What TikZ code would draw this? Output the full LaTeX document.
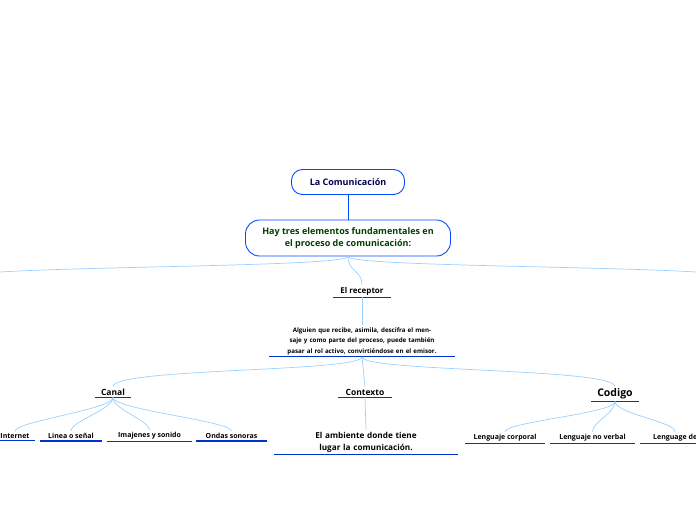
\documentclass[tikz,border=0pt]{standalone}
\usepackage{fontspec}
\setmainfont{Open Sans}
\begin{document}
\begin{tikzpicture}[x=1pt,y=-1pt,
  conn/.style={draw=blue!45!cyan!40!white,line width=0.7pt},
  ulbox/.style={inner sep=2pt,font=\bfseries},
  ul/.style={draw=blue!75!cyan!80!black,line width=1.3pt},
  topbox/.style={draw=blue!70!cyan,line width=0.9pt,rounded corners=11pt,font=\bfseries,align=center}]
\useasboundingbox (0,0) rectangle (696,520);
\clip (0,0) rectangle (696,520);
\node[topbox,text=blue!30!black,minimum width=113,minimum height=25,font=\bfseries\fontsize{9}{11}\selectfont] (lc) at (348,182) {La Comunicación};
\node[topbox,text=green!25!black,minimum width=205,minimum height=36,rounded corners=14pt,font=\bfseries\fontsize{9}{12}\selectfont] (hay) at (348,238) {Hay tres elementos fundamentales en\\el proceso de comunicación:};
\draw[draw=blue!70!cyan,line width=1pt] (lc.south) -- (hay.north);
\coordinate (le) at (0,272);
\coordinate (re) at (696,272);
\draw[conn] (hay.south) .. controls (348,266) and (100,266) .. (le);
\draw[conn] (hay.south) .. controls (348,266) and (596,266) .. (re);
\node[ulbox,minimum width=58,font=\bfseries\fontsize{8}{10}\selectfont] (rec) at (362,291) {El receptor};
\draw[conn] (hay.south) .. controls (348,272) and (362,270) .. (rec.north);
\draw[ul] (rec.south west) -- (rec.south east);
\node[ulbox,text width=181,align=center,font=\bfseries\fontsize{6.2}{10.5}\selectfont] (par) at (362,341) {Alguien que recibe, asimila, descifra el mensaje y como parte del proceso, puede también pasar al rol activo, convirtiéndose en el emisor.};
\draw[conn] (rec.south) -- (par.north);
\draw[ul] (par.south west) -- (par.south east);
\node[ulbox,minimum width=35,font=\bfseries\fontsize{8.5}{10}\selectfont] (can) at (113,392) {Canal};
\node[ulbox,minimum width=54,font=\bfseries\fontsize{8.5}{10}\selectfont] (ctx) at (365,392) {Contexto};
\node[ulbox,minimum width=47,font=\bfseries\fontsize{10.5}{12}\selectfont] (cod) at (615,394) {Codigo};
\foreach \n in {can,ctx,cod}{\draw[ul] (\n.south west) -- (\n.south east);}
\draw[conn] (par.south) .. controls (362,372) and (113,368) .. (can.north);
\draw[conn] (par.south) -- (ctx.north);
\draw[conn] (par.south) .. controls (362,372) and (615,368) .. (cod.north);
\node[ulbox,text width=180,align=center,font=\bfseries\fontsize{8.2}{12}\selectfont] (amb) at (366,442) {El ambiente donde tiene lugar la comunicación.};
\draw[conn] (ctx.south) -- (amb.north);
\draw[ul] (amb.south west) -- (amb.south east);
\begin{scope}[every node/.style={ulbox,font=\bfseries\fontsize{7}{9}\selectfont}]
\node[minimum width=40] (int) at (15,436) {Internet};
\node[minimum width=62] (lin) at (71,436) {Linea o señal};
\node[minimum width=85] (ima) at (149.5,436) {Imajenes y sonido};
\node[minimum width=71] (ond) at (231.5,436) {Ondas sonoras};
\node[minimum width=80] (lcor) at (505,437.5) {Lenguaje corporal};
\node[minimum width=85] (lnv) at (592.5,437.5) {Lenguaje no verbal};
\node[minimum width=70,anchor=west] (lde) at (640,437.5) {Lenguage de};
\end{scope}
\foreach \n in {int,lin,ima,ond}{
  \draw[ul] (\n.south west) -- (\n.south east);
  \draw[conn] (can.south) .. controls +(0,12) and +(0,-10) .. (\n.north);}
\foreach \n in {lcor,lnv,lde}{
  \draw[ul] (\n.south west) -- (\n.south east);
  \draw[conn] (cod.south) .. controls +(0,12) and +(0,-10) .. (\n.north);}
\end{tikzpicture}
\end{document}
